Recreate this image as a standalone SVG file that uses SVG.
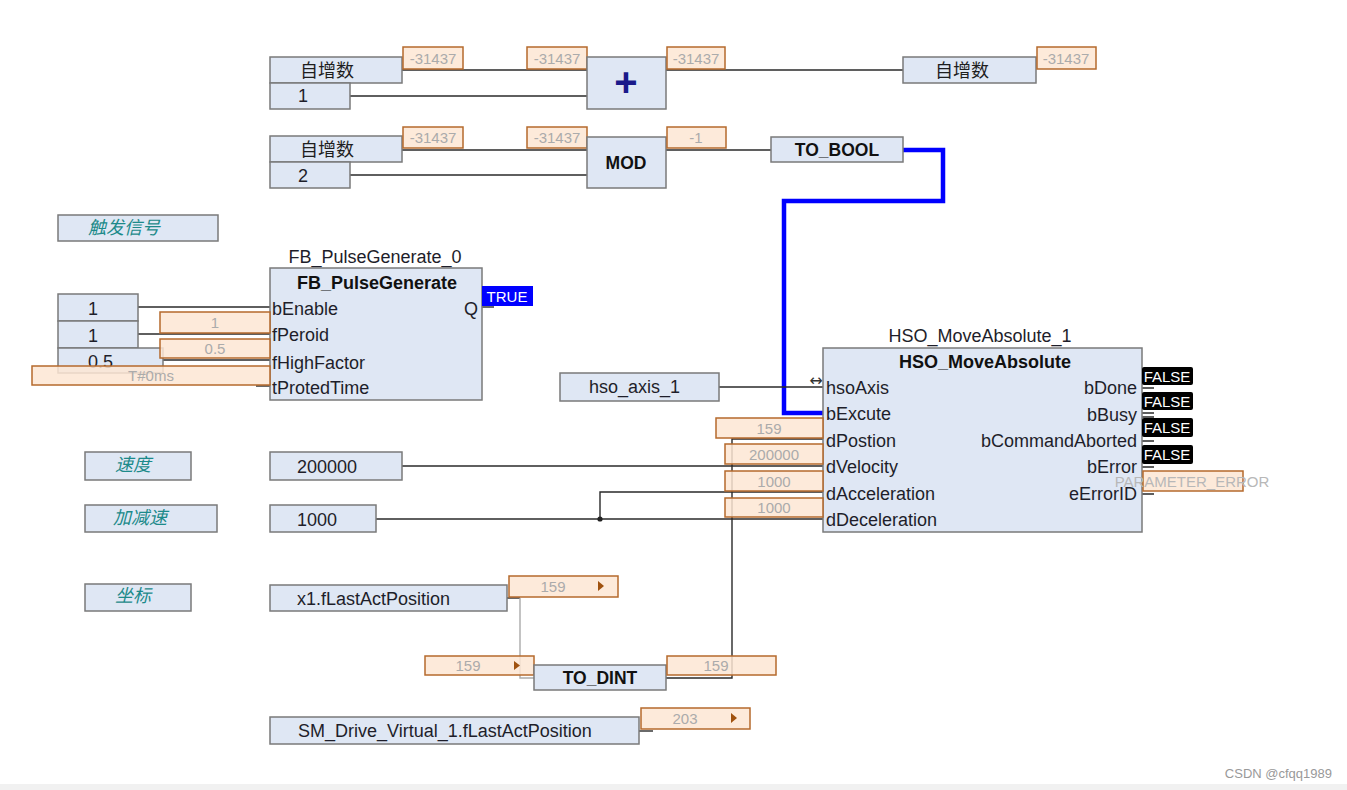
<svg xmlns="http://www.w3.org/2000/svg" width="1347" height="790" viewBox="0 0 1347 790">
<style>
.bg{fill:#ffffff}
.box{fill:#dfe7f4;stroke:#7a7a7a;stroke-width:1.5}
.val{fill:#fde6d4;fill-opacity:0.85;stroke:#b56a2c;stroke-width:1.5}
.blk{fill:#dfe7f4;stroke:#7a7a7a;stroke-width:1.5}
.t{font-family:"Liberation Sans","Noto Sans CJK SC",sans-serif;font-size:18px;fill:#1e1e2a}
.cjk{font-family:"Noto Sans CJK SC","Liberation Sans",sans-serif;font-size:18px;fill:#1e1e1e}
.b{font-family:"Liberation Sans",sans-serif;font-size:17.5px;font-weight:bold;fill:#111;text-anchor:middle}
.vt{font-family:"Liberation Sans",sans-serif;font-size:15px;fill:#ababab;text-anchor:middle}
.cm{font-family:"Noto Sans CJK SC",sans-serif;font-size:18px;font-style:italic;fill:#1c8a8a}
.w{stroke:#2a2a2a;stroke-width:1.4;fill:none}
.wg{stroke:#aaa;stroke-width:1.4;fill:none}
.bw{stroke:#0000ff;stroke-width:4.5;fill:none;stroke-linejoin:miter}
.fb{fill:#000}
.ft{font-family:"Liberation Sans",sans-serif;font-size:15px;fill:#fff;text-anchor:middle}
.tri{fill:#a0520f}
.end{text-anchor:end}
.mid{text-anchor:middle}
</style>
<rect class="bg" x="0" y="0" width="1347" height="790"/>
<rect x="0" y="784" width="1347" height="6" fill="#f1f1f1"/>

<g id="connectors">
  <path class="w" d="M402,70 H587"/>
  <path class="w" d="M350,96 H587"/>
  <path class="w" d="M666,70 H903"/>
  <path class="w" d="M402,150 H587"/>
  <path class="w" d="M350,175 H587"/>
  <path class="w" d="M666,150 H771"/>
  <path class="bw" d="M903,150 H943 V201 H784 V413 H823"/>
  <path class="w" d="M138,307 H270"/>
  <path class="w" d="M138,334 H270"/>
  <path class="w" d="M163,360 H270"/>
  <path class="w" d="M256,386 H270"/>
  <path class="w" d="M482,307 H494"/>
  <path class="w" d="M719,387 H823"/>
  <path class="w" d="M823,439 H732 V678 H666"/>
  <path class="w" d="M402,466 H823"/>
  <path class="w" d="M376,519 H823"/>
  <path class="w" d="M600,519 V492 H823"/>
  <circle cx="600" cy="519" r="2.6" fill="#222"/>
  <path class="w" d="M507,598 H520"/>
  <path class="wg" d="M520,598 V678 H534"/>
  <path class="w" d="M639,731 H653"/>
  <path class="w" d="M1142,388 H1154 M1142,413 H1154 M1142,417 H1154 M1142,441 H1154 M1142,467 H1154 M1142,494 H1154"/>
  <text x="816" y="386" font-family="DejaVu Sans,sans-serif" font-size="16" fill="#333" text-anchor="middle">↔</text>
</g>

<g id="add-in1">
  <rect class="box" x="270" y="57" width="132" height="26"/>
  <text class="cjk" x="300" y="77">自增数</text>
  <rect class="val" x="403" y="47" width="60" height="22"/>
  <text class="vt" x="433" y="64">-31437</text>
</g>
<g id="add-in2">
  <rect class="box" x="270" y="83" width="80" height="26"/>
  <text class="t" x="298" y="102">1</text>
</g>
<g id="add">
  <rect class="val" x="527" y="47" width="60" height="22"/>
  <text class="vt" x="557" y="64">-31437</text>
  <rect class="blk" x="587" y="57" width="79" height="52"/>
  <text x="626" y="96" font-family="Liberation Sans,sans-serif" font-size="40" font-weight="bold" fill="#1a1a8a" text-anchor="middle">+</text>
  <rect class="val" x="667" y="47" width="58" height="22"/>
  <text class="vt" x="696" y="64">-31437</text>
</g>
<g id="add-out">
  <rect class="box" x="903" y="57" width="133" height="26"/>
  <text class="cjk" x="935" y="77">自增数</text>
  <rect class="val" x="1037" y="47" width="59" height="22"/>
  <text class="vt" x="1066" y="64">-31437</text>
</g>

<g id="mod-in1">
  <rect class="box" x="270" y="136" width="132" height="26"/>
  <text class="cjk" x="300" y="156">自增数</text>
  <rect class="val" x="403" y="127" width="60" height="21"/>
  <text class="vt" x="433" y="143">-31437</text>
</g>
<g id="mod-in2">
  <rect class="box" x="270" y="162" width="80" height="26"/>
  <text class="t" x="298" y="182">2</text>
</g>
<g id="mod">
  <rect class="val" x="527" y="127" width="60" height="21"/>
  <text class="vt" x="557" y="143">-31437</text>
  <rect class="blk" x="587" y="137" width="79" height="51"/>
  <text class="b" x="626" y="169">MOD</text>
  <rect class="val" x="667" y="127" width="59" height="21"/>
  <text class="vt" x="696" y="143">-1</text>
</g>
<g id="to-bool">
  <rect class="blk" x="771" y="137" width="132" height="25"/>
  <text class="b" x="837" y="156">TO_BOOL</text>
</g>

<g id="comment-trigger">
  <rect class="box" x="58" y="215" width="160" height="26"/>
  <text class="cm" x="88" y="234">触发信号</text>
</g>

<g id="fb-in1">
  <rect class="box" x="58" y="294" width="80" height="27"/>
  <text class="t" x="88" y="315">1</text>
</g>
<g id="fb-in2">
  <rect class="box" x="58" y="321" width="80" height="27"/>
  <text class="t" x="88" y="342">1</text>
</g>
<g id="fb-in3">
  <rect class="box" x="58" y="348" width="105" height="25"/>
  <text class="t" x="88" y="368">0.5</text>
</g>
<g id="fb-pulse">
  <text class="t mid" x="375" y="263">FB_PulseGenerate_0</text>
  <rect class="blk" x="270" y="268" width="212" height="132"/>
  <text class="b" x="377" y="289" style="font-size:18px">FB_PulseGenerate</text>
  <text class="t" x="272" y="315">bEnable</text>
  <text class="t" x="272" y="341">fPeroid</text>
  <text class="t" x="272" y="369">fHighFactor</text>
  <text class="t" x="272" y="394">tProtedTime</text>
  <text class="t end" x="478" y="315">Q</text>
  <rect class="val" x="160" y="312" width="110" height="21"/>
  <text class="vt" x="215" y="328">1</text>
  <rect class="val" x="160" y="339" width="110" height="19"/>
  <text class="vt" x="215" y="354">0.5</text>
  <rect class="val" x="32" y="366" width="238" height="19"/>
  <text class="vt" x="151" y="381">T#0ms</text>
  <rect x="482" y="286" width="51" height="20" fill="#0000ff"/>
  <text class="ft" x="507" y="302">TRUE</text>
</g>

<g id="hso-axis">
  <rect class="box" x="560" y="373" width="159" height="28"/>
  <text class="t" x="589" y="393">hso_axis_1</text>
</g>
<g id="hso-move">
  <text class="t mid" x="980" y="342">HSO_MoveAbsolute_1</text>
  <rect class="blk" x="823" y="348" width="319" height="184"/>
  <text class="b" x="985" y="368" style="font-size:18px">HSO_MoveAbsolute</text>
  <text class="t" x="826" y="394">hsoAxis</text>
  <text class="t" x="826" y="420">bExcute</text>
  <text class="t" x="826" y="447">dPostion</text>
  <text class="t" x="826" y="473">dVelocity</text>
  <text class="t" x="826" y="500">dAcceleration</text>
  <text class="t" x="826" y="526">dDeceleration</text>
  <text class="t end" x="1137" y="394">bDone</text>
  <text class="t end" x="1137" y="421">bBusy</text>
  <text class="t end" x="1137" y="447">bCommandAborted</text>
  <text class="t end" x="1137" y="473">bError</text>
  <text class="t end" x="1137" y="500">eErrorID</text>
  <rect class="val" x="716" y="418" width="107" height="20"/>
  <text class="vt" x="769" y="434">159</text>
  <rect class="val" x="725" y="444" width="98" height="20"/>
  <text class="vt" x="774" y="460">200000</text>
  <rect class="val" x="725" y="471" width="98" height="20"/>
  <text class="vt" x="774" y="487">1000</text>
  <rect class="val" x="725" y="498" width="98" height="19"/>
  <text class="vt" x="774" y="513">1000</text>
  <rect class="fb" x="1142" y="367" width="51" height="18" rx="2"/>
  <text class="ft" x="1167" y="382">FALSE</text>
  <rect class="fb" x="1142" y="392" width="51" height="18" rx="2"/>
  <text class="ft" x="1167" y="407">FALSE</text>
  <rect class="fb" x="1142" y="418" width="51" height="19" rx="2"/>
  <text class="ft" x="1167" y="433">FALSE</text>
  <rect class="fb" x="1142" y="445" width="51" height="19" rx="2"/>
  <text class="ft" x="1167" y="460">FALSE</text>
  <rect class="val" x="1143" y="471" width="100" height="20"/>
  <text class="vt" x="1192" y="487" style="fill:#b8b8b8">PARAMETER_ERROR</text>
</g>

<g id="comment-speed">
  <rect class="box" x="85" y="452" width="106" height="28"/>
  <text class="cm" x="115" y="471">速度</text>
</g>
<g id="velocity">
  <rect class="box" x="270" y="452" width="132" height="28"/>
  <text class="t" x="297" y="473">200000</text>
</g>
<g id="comment-acc">
  <rect class="box" x="85" y="505" width="132" height="27"/>
  <text class="cm" x="113" y="524">加减速</text>
</g>
<g id="acc">
  <rect class="box" x="270" y="505" width="106" height="27"/>
  <text class="t" x="297" y="526">1000</text>
</g>
<g id="comment-pos">
  <rect class="box" x="85" y="584" width="106" height="27"/>
  <text class="cm" x="115" y="602">坐标</text>
</g>
<g id="x1-pos">
  <rect class="box" x="270" y="585" width="237" height="26"/>
  <text class="t" x="297" y="605">x1.fLastActPosition</text>
  <rect class="val" x="509" y="576" width="109" height="21"/>
  <text class="vt" x="553" y="592">159</text>
  <path class="tri" d="M598,581 L604,586 L598,591 Z"/>
</g>
<g id="to-dint">
  <rect class="val" x="425" y="656" width="109" height="19"/>
  <text class="vt" x="468" y="671">159</text>
  <path class="tri" d="M514,661 L520,665.5 L514,670 Z"/>
  <rect class="blk" x="534" y="665" width="132" height="25"/>
  <text class="b" x="600" y="684">TO_DINT</text>
  <rect class="val" x="667" y="656" width="109" height="19"/>
  <text class="vt" x="716" y="671">159</text>
</g>
<g id="sm-drive">
  <rect class="box" x="270" y="717" width="369" height="27"/>
  <text class="t" x="298" y="737">SM_Drive_Virtual_1.fLastActPosition</text>
  <rect class="val" x="641" y="708" width="109" height="21"/>
  <text class="vt" x="685" y="724">203</text>
  <path class="tri" d="M731,713 L737,718 L731,723 Z"/>
</g>

<text x="1332" y="778" font-family="Liberation Sans,sans-serif" font-size="13" fill="#999" text-anchor="end">CSDN @cfqq1989</text>
</svg>
